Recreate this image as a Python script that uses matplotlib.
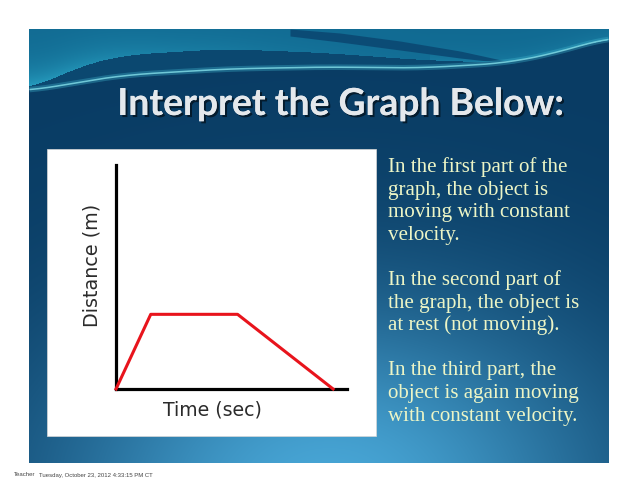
import numpy as np
import matplotlib
matplotlib.use("Agg")
import matplotlib.pyplot as plt
from matplotlib.patches import Rectangle
import matplotlib.patheffects as pe

# ---------------- data ----------------
time_sec = [0.0, 2.0, 7.0, 12.5]
distance_m = [0.0, 3.0, 3.0, 0.0]
x_max = 13.3
y_max = 9.0
x_label = "Time (sec)"
y_label = "Distance (m)"
title = "Interpret the Graph Below:"
body_lines = [
    "In the first part of the",
    "graph, the object is",
    "moving with constant",
    "velocity.",
    "",
    "In the second part of",
    "the graph, the object is",
    "at rest (not moving).",
    "",
    "In the third part, the",
    "object is again moving",
    "with constant velocity.",
]
footer_left = "Teacher"
footer_right = "Tuesday, October 23, 2012 4:33:15 PM CT"

# ---------------- figure ----------------
W, H = 638, 493
fig = plt.figure(figsize=(W / 100, H / 100), dpi=100, facecolor="white")
bg = fig.add_axes([0, 0, 1, 1])
bg.set_xlim(0, W)
bg.set_ylim(H, 0)
bg.axis("off")

# slide background (decorative gradient + waves)
L, R, T, B = 29, 609, 29, 463
xs = np.arange(L, R) + 0.5
ys = np.arange(T, B) + 0.5
X, Y = np.meshgrid(xs, ys)
navy = np.array([9, 60, 100]) / 255
light = np.array([72, 166, 214]) / 255
w = np.exp(-((X - 330) / 280) ** 2 - ((Y - 490) / 190) ** 2)
img = navy[None, None, :] * (1 - w[..., None]) + light[None, None, :] * w[..., None]


def smooth_curve(px, py, k=61):
    line = np.interp(xs, px, py)
    pad = np.pad(line, k // 2, mode="edge")
    return np.convolve(pad, np.ones(k) / k, mode="valid")


ax_pts = [29, 80, 125, 225, 325, 420, 507, 560, 609]
A_pts = [90, 66, 55, 49, 53, 60, 63, 52, 38]
C_pts = [91, 82, 75, 69, 67, 68, 63, 52, 37]
A1 = smooth_curve(ax_pts, A_pts)
C1 = smooth_curve(ax_pts, C_pts)
A = np.broadcast_to(A1[None, :], X.shape)
C = np.broadcast_to(C1[None, :], X.shape)
band = (Y >= A) & (Y < C)
img[band] = np.array([11, 72, 112]) / 255
teal_top = np.array([17, 106, 146]) / 255
teal_hi = np.array([38, 156, 190]) / 255
tw = np.clip(np.exp(-(A - Y) / 18) * np.exp(-(X - 29) / 160), 0, 1)
tw = np.maximum(tw, 0.3 * np.exp(-(A - Y) / 10) * ((X > 430)))
teal = teal_top[None, None, :] * (1 - tw[..., None]) + teal_hi[None, None, :] * tw[..., None]
mask = Y < A
img[mask] = teal[mask]
bg.imshow(img, extent=(L, R, B, T), origin="upper", interpolation="bilinear", zorder=0)

# dark swoosh and cyan line
dark_x = np.linspace(290, 515, 60)
dark_top = np.interp(dark_x, [290, 340, 400, 460, 515], [29, 33, 41, 51, 63])
dark_bot = np.interp(dark_x, [290, 340, 400, 460, 515], [36, 42, 50, 58, 64])
bg.fill_between(dark_x, dark_top, dark_bot, color="#0a4670", alpha=0.85, lw=0, zorder=1)
bg.plot(xs, C1, color="#3fb4cc", lw=4, alpha=0.35, zorder=1, solid_capstyle="butt")
bg.plot(xs, C1, color="#79d3e0", lw=1.1, alpha=0.9, zorder=1, solid_capstyle="butt")

# white picture box
bg.add_patch(Rectangle((47, 149), 329, 287, facecolor="white", edgecolor="#d8d8d8", lw=0.5, zorder=2))

# title
bg.text(340.5, 115, title, ha="center", va="baseline", fontsize=26.8, fontweight="bold",
        family=["Lato", "DejaVu Sans"], color="#e4e8ec", zorder=5,
        path_effects=[pe.withSimplePatchShadow(offset=(1.5, -1.5), shadow_rgbFace="black", alpha=0.55),
                      pe.Normal()])

# body text
for i, line in enumerate(body_lines):
    if line:
        bg.text(388, 172 + i * 22.6, line, ha="left", va="baseline", fontsize=15.1,
                family=["Liberation Serif", "DejaVu Serif"], color="#ecf5c6", zorder=5)

# footer
bg.text(14, 475, footer_left, ha="left", va="center", fontsize=4.3,
        family=["Liberation Sans", "DejaVu Sans"], color="#444444")
bg.text(39, 475, footer_right, ha="left", va="center", fontsize=4.3,
        family=["Liberation Sans", "DejaVu Sans"], color="#444444")

# axis labels
bg.text(212, 410, x_label, ha="center", va="center", fontsize=13.6, color="#2b2b2b",
        family=["DejaVu Sans"], zorder=5)
bg.text(92, 265, y_label, ha="center", va="center", rotation=90, fontsize=13.8, color="#2b2b2b",
        family=["DejaVu Sans"], zorder=5)

# the chart
ax = fig.add_axes([116 / W, 1 - 389 / H, (347 - 116) / W, (389 - 165) / H])
ax.set_facecolor("none")
ax.set_xlim(0, x_max)
ax.set_ylim(0, y_max)
for s in ["top", "right"]:
    ax.spines[s].set_visible(False)
for s in ["left", "bottom"]:
    ax.spines[s].set_linewidth(2.3)
    ax.spines[s].set_color("black")
ax.set_xticks([])
ax.set_yticks([])
ax.plot(time_sec, distance_m, color="#e8141c", lw=2.2, clip_on=False, zorder=3)

fig.savefig("out.png", dpi=100, facecolor="white")
